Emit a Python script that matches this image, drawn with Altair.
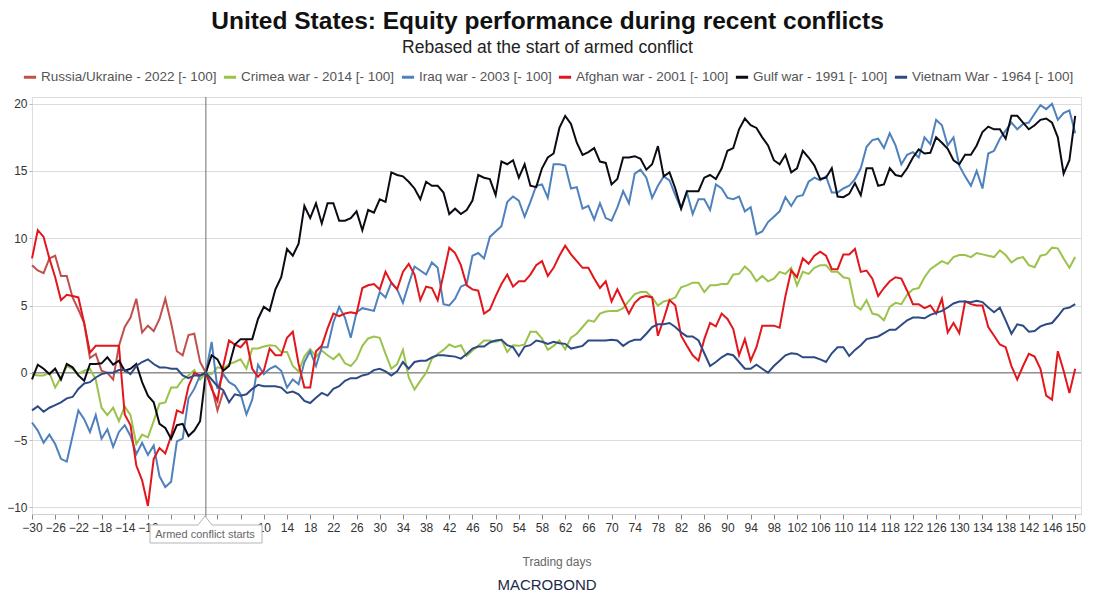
import altair as alt
import pandas as pd

# ---------------- data ----------------
series_names = [
    "Russia/Ukraine - 2022 [- 100]",
    "Crimea war - 2014 [- 100]",
    "Iraq war - 2003 [- 100]",
    "Afghan war - 2001 [- 100]",
    "Gulf war - 1991 [- 100]",
    "Vietnam War - 1964 [- 100]",
]
series_colors = ["#C0504D", "#9BC24A", "#4F81BD", "#E3161C", "#0B0B14", "#2E4A85"]

# days -30 .. -1
russia_before = [8.0, 7.6, 7.4, 8.5, 8.7, 7.2, 7.2, 5.6, 4.7, 3.7, 1.1, 1.4, 0.15, 0.0, -0.5,
                 2.0, 3.4, 4.1, 5.5, 3.0, 3.5, 3.1, 4.0, 5.5, 3.7, 1.6, 1.3, 2.8, 2.9, 0.8]
# days 1 ..
russia_after = [-1.0, -2.8, -1.4]

crimea_before = [-0.1, -0.2, -0.2, 0.0, -1.1, -0.35, 0.5, 0.3, -0.1, 0.15, 0.3, -0.5, -2.6, -3.15, -2.6,
                 -3.6, -2.5, -3.15, -5.3, -4.6, -4.8, -3.6, -2.3, -2.2, -1.1, -1.1, -0.5, -0.2, 0.2, -0.5]
crimea_after = [-0.1, 0.4, 0.3, 0.65, 0.8, 1.0, 0.3, 1.8, 1.8, 1.95, 2.05, 2.0, 1.55, 1.55, 0.5,
                0.1, 1.2, 1.75, 1.2, 1.65, 1.3, 1.0, 1.4, 0.7, 0.5, 1.0, 2.0, 2.55, 2.7,
                2.6, 1.4, 0.3, 0.65, 1.7, -0.35, -1.25, -0.6, 0.0, 1.05, 1.4, 1.7, 2.1, 1.9, 2.05,
                1.25, 1.65, 2.0, 2.4, 2.4, 2.3, 2.45, 1.55, 2.05, 2.0, 2.1, 3.05, 3.05, 2.55, 1.7,
                2.0, 2.4, 1.75, 2.6, 2.9, 3.4, 3.9, 3.8, 4.4, 4.55, 4.6, 4.6, 4.8, 5.35, 5.85,
                6.0, 6.0, 5.6, 5.0, 5.3, 5.4, 5.6, 6.35, 6.5, 6.7, 6.7, 6.0, 6.5, 6.5, 6.6, 6.6,
                7.3, 7.35, 7.9, 7.5, 6.8, 7.2, 6.8, 7.0, 7.5, 7.35, 7.8, 6.5, 7.5, 7.35, 7.8,
                8.0, 8.0, 7.5, 7.5, 7.1, 7.0, 5.0, 4.7, 5.4, 4.4, 4.3, 3.9, 4.9, 5.2, 5.1,
                5.8, 6.2, 6.3, 7.1, 7.7, 8.0, 8.3, 8.1, 8.6, 8.75, 8.75, 8.6, 8.9, 8.8, 8.7,
                8.6, 9.1, 8.75, 8.2, 8.5, 8.6, 8.0, 7.85, 8.7, 8.8, 9.3, 9.25, 8.5, 7.8, 8.6]

iraq_before = [-3.7, -4.3, -5.2, -4.6, -5.3, -6.4, -6.6, -4.7, -2.8, -3.45, -4.4, -3.15, -4.9, -4.2, -5.5,
               -4.4, -3.9, -4.7, -6.05, -5.2, -6.1, -5.4, -7.7, -8.5, -8.1, -5.1, -4.9, -1.9, -1.2, -0.2]
iraq_after = [2.3, -1.2, -0.1, -0.7, -0.95, -1.6, -3.1, -2.0, 0.6, -0.1, 0.3, 0.5, 0.15, -1.1, -0.5,
              -0.85, 0.8, 1.6, 0.5, 1.9, 1.9, 3.75, 4.9, 4.1, 2.6, 4.5, 4.8, 4.7, 4.6,
              6.0, 5.6, 6.7, 6.2, 5.2, 6.6, 7.9, 7.6, 7.3, 8.2, 7.8, 5.1, 5.0, 5.5, 6.4,
              6.6, 8.7, 8.9, 8.5, 10.1, 10.5, 10.9, 12.7, 13.1, 12.8, 11.6, 12.7, 13.9, 14.0, 13.0,
              15.5, 15.5, 15.4, 13.7, 13.8, 12.2, 12.4, 11.4, 12.6, 11.5, 11.3, 12.3, 13.5, 12.6, 14.8,
              15.1, 14.5, 13.0, 13.9, 14.6, 14.3, 13.2, 12.2, 13.4, 11.8, 12.9, 12.9, 12.1, 14.0, 13.7, 13.0,
              12.9, 13.1, 12.0, 12.3, 10.3, 10.5, 11.2, 11.6, 12.0, 13.05, 12.4, 13.1, 13.2, 14.2, 14.5,
              14.3, 14.6, 13.4, 13.4, 13.7, 13.9, 14.4, 15.2, 16.8, 17.3, 17.4, 16.7, 17.8, 16.9, 15.5,
              16.2, 16.4, 16.0, 17.5, 17.0, 18.8, 18.4, 16.9, 17.5, 15.4, 14.6, 13.9, 15.0, 13.7, 16.3,
              16.5, 17.4, 18.0, 18.6, 18.1, 18.5, 18.6, 19.25, 19.9, 19.6, 20.0, 18.8, 19.3, 19.5, 17.8]

afghan_before = [8.5, 10.6, 10.1, 8.5, 7.1, 5.4, 5.8, 5.7, 5.6, 3.7, 1.5, 2.0, 2.0, 2.0, 2.0,
                 2.0, -3.1, -3.9, -6.9, -8.0, -9.9, -6.4, -5.6, -6.0, -4.7, -2.8, -3.0, -1.0, 0.0, -0.2]
afghan_after = [-1.2, -2.1, 0.5, 2.4, 2.1, 1.9, 2.4, 0.3, -0.3, 0.15, 1.8, 1.3, 1.3, 2.6, 3.05,
                0.65, -1.1, -1.1, 1.6, 2.0, 3.3, 4.4, 4.2, 4.4, 4.5, 4.4, 6.3, 6.5, 6.6,
                6.2, 7.5, 6.7, 6.2, 7.5, 8.1, 7.3, 5.4, 6.4, 6.3, 5.4, 7.3, 9.3, 8.9, 8.0,
                6.5, 6.2, 6.1, 4.4, 4.7, 5.7, 6.6, 7.3, 6.4, 6.8, 6.8, 7.3, 8.0, 8.3, 7.2,
                7.8, 8.7, 9.45, 8.8, 8.3, 7.8, 7.8, 7.0, 6.3, 6.8, 5.3, 6.2, 5.3, 4.4, 5.2,
                5.6, 5.7, 5.6, 2.75, 4.0, 5.4, 5.0, 2.75, 2.0, 1.3, 0.9, 2.5, 3.7, 3.45, 4.4, 4.0,
                3.25, 1.3, 2.5, 0.9, 1.9, 3.5, 3.5, 3.5, 3.35, 5.7, 7.6, 7.1, 8.5, 8.1, 8.7,
                9.0, 8.7, 7.7, 7.7, 8.8, 8.8, 9.2, 7.5, 7.6, 7.0, 5.7, 6.3, 6.8, 7.1, 7.0,
                6.1, 5.1, 5.1, 4.8, 5.0, 4.4, 5.5, 3.0, 3.7, 2.95, 5.3, 5.1, 5.0, 5.0, 3.4,
                2.75, 2.1, 1.9, 0.5, -0.5, 0.5, 1.4, 1.2, 0.3, -1.7, -2.0, 1.6, 0.15, -1.5, 0.3]

gulf_before = [-0.5, 0.6, 0.3, -0.1, 0.3, -0.5, 0.65, 0.4, -0.2, -0.6, 0.65, 0.65, 0.7, 1.15, 0.6,
               0.9, 0.15, 0.3, 0.65, -0.7, -1.7, -2.2, -3.8, -4.1, -4.9, -3.9, -3.8, -4.7, -4.3, -3.6]
gulf_after = [1.3, 1.0, 0.15, 0.5, 2.1, 2.5, 2.5, 2.5, 4.0, 4.9, 4.6, 6.2, 7.1, 9.2, 8.7,
              9.6, 12.4, 11.5, 12.6, 11.1, 12.6, 12.6, 11.3, 11.3, 11.5, 12.0, 10.6, 12.1, 11.9,
              12.9, 12.7, 14.9, 14.7, 14.6, 14.2, 13.7, 12.9, 14.2, 13.9, 13.9, 13.4, 11.8, 12.2, 11.8,
              12.1, 12.8, 14.7, 14.5, 14.4, 13.2, 15.7, 15.5, 15.8, 14.5, 15.5, 13.9, 13.8, 15.2, 16.0,
              16.3, 18.2, 19.1, 18.5, 17.1, 16.2, 16.4, 16.7, 15.7, 15.6, 14.0, 14.4, 16.0, 16.0, 16.1,
              15.9, 15.1, 15.5, 16.85, 14.6, 14.9, 13.7, 12.2, 13.5, 13.5, 13.5, 14.5, 14.7, 14.4, 15.2, 16.5,
              16.7, 18.1, 18.9, 18.4, 18.2, 17.5, 16.9, 15.8, 15.5, 16.2, 14.9, 15.2, 16.5, 16.0, 15.4,
              14.4, 14.5, 15.2, 13.1, 13.05, 13.3, 14.1, 13.2, 15.2, 15.2, 13.9, 14.0, 15.2, 14.7, 14.6,
              15.2, 16.0, 16.6, 16.3, 16.35, 17.5, 17.1, 16.65, 15.8, 15.5, 16.2, 16.2, 16.9, 17.9, 18.3,
              18.1, 18.1, 17.4, 19.1, 19.1, 18.6, 18.1, 18.4, 18.8, 18.9, 18.6, 17.5, 14.8, 15.8, 19.1]

vietnam_before = [-2.8, -2.5, -2.9, -2.6, -2.4, -2.2, -1.9, -1.8, -1.2, -0.8, -0.7, -0.35, -0.1, 0.0, 0.0,
                  0.2, 0.2, -0.1, 0.5, 0.8, 1.0, 0.65, 0.4, 0.4, 0.3, 0.3, -0.2, -0.4, -0.2, -0.2]
vietnam_after = [-0.5, -1.0, -1.3, -2.2, -1.6, -1.7, -1.6, -1.2, -0.9, -1.0, -1.0, -1.0, -1.1, -1.5, -1.4,
                 -1.6, -2.1, -2.25, -1.85, -1.5, -1.7, -1.2, -1.0, -0.6, -0.4, -0.4, -0.2, -0.1, 0.2,
                 0.3, 0.1, -0.2, 0.1, 0.8, 0.3, 0.8, 0.9, 0.9, 1.15, 1.3, 1.3, 1.25, 1.2, 1.05,
                 1.4, 1.8, 1.95, 1.95, 2.25, 2.4, 2.45, 2.05, 1.9, 1.25, 1.95, 2.05, 2.4, 2.3, 2.15,
                 2.3, 2.2, 2.15, 1.8, 1.9, 2.0, 2.4, 2.4, 2.4, 2.4, 2.45, 2.4, 2.0, 2.3, 2.45,
                 2.45, 2.9, 3.4, 3.6, 3.6, 3.7, 3.4, 3.0, 2.7, 2.7, 2.4, 1.45, 0.5, 0.8, 1.15, 1.4,
                 1.3, 0.8, 0.3, 0.3, 0.6, 0.3, 0.0, 0.5, 0.9, 1.3, 1.45, 1.4, 1.15, 1.15, 1.15,
                 1.0, 0.8, 1.45, 1.9, 1.9, 1.25, 1.7, 2.05, 2.5, 2.6, 2.7, 2.95, 3.2, 3.2, 3.55,
                 3.9, 4.1, 4.1, 4.05, 4.3, 4.45, 4.6, 4.85, 5.15, 5.3, 5.3, 5.25, 5.35, 5.25, 4.85,
                 4.5, 4.85, 3.9, 2.9, 3.6, 3.5, 3.05, 3.1, 3.45, 3.6, 3.7, 4.2, 4.75, 4.85, 5.1]

x_tick_values = list(range(-30, 151, 4))
y_tick_values = [-10, -5, 0, 5, 10, 15, 20]

title_text = "United States: Equity performance during recent conflicts"
subtitle_text = "Rebased at the start of armed conflict"
x_axis_title = "Trading days"
annotation_text = "Armed conflict starts"
brand_text = "MACROBOND"

# ---------------- build table ----------------
rows = []
pairs = [
    (series_names[0], russia_before, russia_after),
    (series_names[1], crimea_before, crimea_after),
    (series_names[2], iraq_before, iraq_after),
    (series_names[3], afghan_before, afghan_after),
    (series_names[4], gulf_before, gulf_after),
    (series_names[5], vietnam_before, vietnam_after),
]
for order, (name, before, after) in enumerate(pairs):
    vals = list(before) + [0.0] + list(after)
    start = -len(before)
    for i, v in enumerate(vals):
        rows.append({"series": name, "day": start + i, "value": v, "ord": order})
df = pd.DataFrame(rows)

FONT = "Liberation Sans"
LEFT = 32                      # page x of plot's left edge
TOP = 97                       # page y of plot's top edge
W, H = 1081 - LEFT, 417
CX = 547.5 - LEFT              # page centre relative to plot origin

xscale = alt.Scale(domain=[-30, 151], nice=False, zero=False)
yscale = alt.Scale(domain=[-10.5, 20.5], nice=False, zero=False)

x_axis = alt.Axis(values=x_tick_values, title=None, grid=False, domain=True,
                  domainColor="#d0d0d0", ticks=True, tickSize=5, tickColor="#888",
                  labelFontSize=12, labelColor="#333", labelPadding=3,
                  labelFont=FONT, labelOverlap=False, labelFlush=False,
                  labelExpr="abs(datum.value) < 8 ? '' : datum.label")
y_axis = alt.Axis(values=y_tick_values, title=None, grid=True, gridColor="#dcdcdc",
                  domain=False, ticks=True, tickSize=3, tickColor="#bbb",
                  labelFontSize=12, labelColor="#333", labelPadding=2, labelFont=FONT,
                  labelOverlap=False)

lines = alt.Chart(df).mark_line(strokeWidth=2).encode(
    x=alt.X("day:Q", scale=xscale, axis=x_axis),
    y=alt.Y("value:Q", scale=yscale, axis=y_axis),
    color=alt.Color("series:N",
                    scale=alt.Scale(domain=series_names, range=series_colors),
                    sort=series_names,
                    legend=alt.Legend(orient="none", legendX=22 - LEFT, legendY=-28,
                                      direction="horizontal",
                                      title=None, symbolType="stroke", symbolStrokeWidth=3,
                                      symbolSize=150, labelFontSize=13.5, labelColor="#555",
                                      labelFont=FONT, labelOffset=3, columnPadding=0,
                                      labelLimit=400)),
    order=alt.Order("ord:Q"),
    detail="series:N",
)

one = pd.DataFrame({"k": [0]})

zero_line = alt.Chart(pd.DataFrame({"value": [0.0]})).mark_rule(color="#6e6e6e", strokeWidth=1).encode(
    y=alt.Y("value:Q", scale=yscale, axis=y_axis))

event_line = alt.Chart(pd.DataFrame({"day": [0]})).mark_rule(color="#6e6e6e", strokeWidth=1).encode(
    x=alt.X("day:Q", scale=xscale, axis=x_axis), y=alt.value(0), y2=alt.value(H - 1 + 4))

def text_at(txt, x, y, size, color, weight="normal", align="center", font=FONT):
    return alt.Chart(one).mark_text(text=txt, fontSize=size, font=font, color=color,
                                    fontWeight=weight, align=align, baseline="middle").encode(
        x=alt.value(x), y=alt.value(y))

title = text_at(title_text, CX, 22 - TOP, 24.5, "#111", weight="bold")
subtitle = text_at(subtitle_text, CX, 48 - TOP, 17.5, "#222")
xtitle = text_at(x_axis_title, 557 - LEFT, 562 - TOP, 12, "#666")
brand = text_at(brand_text, 547 - LEFT, 585 - TOP, 15, "#1B2A4A")

# callout box for the conflict start
tip_x = 205 - LEFT
bx0, bx1 = 150 - LEFT, 262 - LEFT
by0, by1 = 525 - TOP, 543 - TOP
box = alt.Chart(one).mark_rect(fill="white", stroke="#b5b5b5", strokeWidth=1).encode(
    x=alt.value(bx0), x2=alt.value(bx1), y=alt.value(by0), y2=alt.value(by1))
notch_cover = alt.Chart(one).mark_rule(color="white", strokeWidth=2).encode(
    x=alt.value(tip_x - 7), x2=alt.value(tip_x + 7), y=alt.value(by0), y2=alt.value(by0))
notch_left = alt.Chart(one).mark_rule(color="#b5b5b5", strokeWidth=1).encode(
    x=alt.value(tip_x - 7), x2=alt.value(tip_x), y=alt.value(by0), y2=alt.value(H + 2))
notch_right = alt.Chart(one).mark_rule(color="#b5b5b5", strokeWidth=1).encode(
    x=alt.value(tip_x), x2=alt.value(tip_x + 7), y=alt.value(H + 2), y2=alt.value(by0))
box_text = text_at(annotation_text, tip_x, (by0 + by1) / 2 + 1, 11, "#666")

chart = alt.layer(
    zero_line, lines, event_line, box, notch_cover, notch_left, notch_right, box_text,
    title, subtitle, xtitle, brand,
).properties(
    width=W, height=H,
    autosize=alt.AutoSizeParams(type="none"),
    padding={"left": LEFT - 8, "top": TOP - 8, "right": 1087 - 1081, "bottom": 592 - TOP - H},
    background="white",
).configure_view(stroke=None).configure(font=FONT)

chart.save("out.html", embed_options={"renderer": "svg", "actions": False})
